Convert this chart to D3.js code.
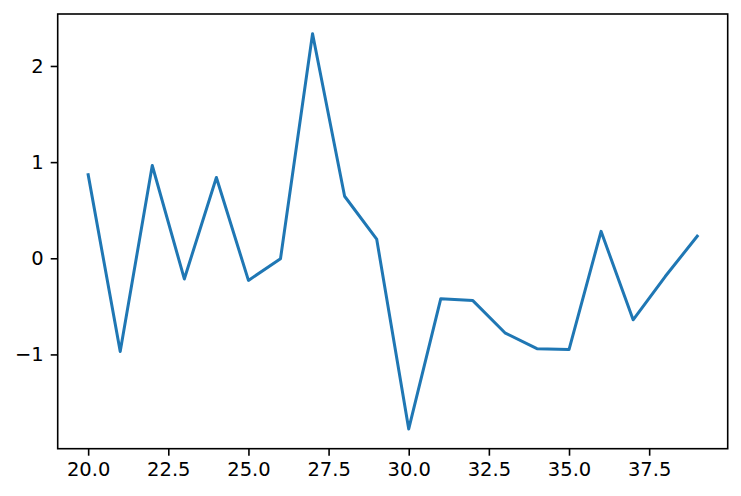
<!DOCTYPE html>
<html>
<head>
<meta charset="utf-8">
<script src="https://cdn.jsdelivr.net/npm/d3@7"></script>
<style>
  body { margin: 0; background: #fff; }
  svg { display: block; }
  .tick text { font-family: "DejaVu Sans", sans-serif; font-size: 19.5px; fill: #000; }
</style>
</head>
<body>
<div id="chart"></div>
<script>
//data
const xValues = [20, 21, 22, 23, 24, 25, 26, 27, 28, 29, 30, 31, 32, 33, 34, 35, 36, 37, 38, 39];
const yValues = [0.87, -0.97, 0.965, -0.215, 0.84, -0.23, -0.005, 2.335, 0.645, 0.20,
                 -1.775, -0.42, -0.44, -0.775, -0.94, -0.95, 0.28, -0.64, -0.19, 0.23];
const xTicks = [20, 22.5, 25, 27.5, 30, 32.5, 35, 37.5];
const yTicks = [-1, 0, 1, 2];

const width = 741, height = 496;
const margin = {top: 14, right: 13.3, bottom: 47.3, left: 57.7};

//matplotlib-like 5% padding around the data
function padded(extent){
    const pad = (extent[1] - extent[0]) * 0.05;
    return [extent[0] - pad, extent[1] + pad];
}

const svg = d3.select("#chart").append("svg")
    .attr("width", width)
    .attr("height", height);

const x = d3.scaleLinear()
    .domain(padded(d3.extent(xValues)))
    .range([margin.left, width - margin.right]);

const y = d3.scaleLinear()
    .domain(padded(d3.extent(yValues)))
    .range([height - margin.bottom, margin.top]);

//draw line
const line = d3.line()
    .x(function(d, i){ return x(xValues[i]); })
    .y(function(d){ return y(d); });

svg.append("path")
    .datum(yValues)
    .attr("d", line)
    .attr("fill", "none")
    .attr("stroke", "#1f77b4")
    .attr("stroke-width", 3)
    .attr("stroke-linejoin", "round")
    .attr("stroke-linecap", "square");

//axes
const xAxis = svg.append("g")
    .attr("transform", "translate(0," + (height - margin.bottom) + ")")
    .call(d3.axisBottom(x).tickValues(xTicks).tickFormat(d3.format(".1f"))
        .tickSize(7).tickSizeOuter(0).tickPadding(6));

const yAxis = svg.append("g")
    .attr("transform", "translate(" + margin.left + ",0)")
    .call(d3.axisLeft(y).tickValues(yTicks).tickFormat(d3.format("d"))
        .tickSize(7).tickSizeOuter(0).tickPadding(7));

svg.selectAll(".domain").remove();
svg.selectAll(".tick line").attr("stroke", "#000").attr("stroke-width", 1.6);

//frame
svg.append("rect")
    .attr("x", margin.left)
    .attr("y", margin.top)
    .attr("width", width - margin.left - margin.right)
    .attr("height", height - margin.top - margin.bottom)
    .attr("fill", "none")
    .attr("stroke", "#000")
    .attr("stroke-width", 1.6);
</script>
</body>
</html>
